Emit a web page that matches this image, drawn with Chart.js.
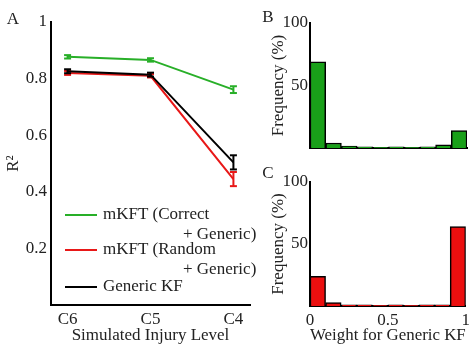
<!DOCTYPE html>
<html>
<head>
<meta charset="utf-8">
<script src="https://cdn.jsdelivr.net/npm/chart.js@4"></script>
<style>
  body { margin: 0; background: #fff; width: 474px; height: 347px; position: relative; overflow: hidden; }
  canvas { position: absolute; }
  #left { left: 0; top: 0; }
  #histB { left: 250px; top: 0; }
  #histC { left: 250px; top: 160px; }
</style>
</head>
<body>
<canvas id="left" width="262" height="347"></canvas>
<canvas id="histB" width="224" height="162"></canvas>
<canvas id="histC" width="224" height="187"></canvas>
<script>
// panel A: R^2 per simulated injury level
const levels = ['C6', 'C5', 'C4'];
const levelPos = [0, 1, 2];
const correctMean = [0.877, 0.866, 0.761];
const correctErr = [0.006, 0.006, 0.012];
const randomMean = [0.82, 0.81, 0.445];
const randomErr = [0.007, 0.006, 0.025];
const genericMean = [0.826, 0.814, 0.504];
const genericErr = [0.007, 0.007, 0.025];

// panels B and C: histogram of weight for generic KF (10 bins over 0..1)
const binCenters = [0.05, 0.15, 0.25, 0.35, 0.45, 0.55, 0.65, 0.75, 0.85, 0.95];
const freqCorrect = [69, 4, 1.5, 1, 0.5, 1, 0.5, 1, 2.5, 14];
const freqRandom = [24, 2.7, 1, 1, 0.5, 1, 0.5, 1, 1, 64];

const GREEN = 'rgb(40,175,40)';
const RED = 'rgb(232,24,24)';
const BLACK = '#000';
const FONT = 'Liberation Serif';

Chart.defaults.font.family = FONT;
Chart.defaults.font.size = 17;
Chart.defaults.color = '#222';

const panelLetter = {
  id: 'panelLetter',
  afterDraw(chart, args, opts) {
    const ctx = chart.ctx;
    ctx.save();
    ctx.font = '17px "' + FONT + '"';
    ctx.fillStyle = '#222';
    ctx.textAlign = 'center';
    ctx.textBaseline = 'middle';
    ctx.fillText(opts.text, opts.x, opts.y);
    ctx.restore();
  }
};

const legendRows = [
  { color: GREEN, lines: ['mKFT (Correct', '+ Generic)'] },
  { color: RED, lines: ['mKFT (Random', '+ Generic)'] },
  { color: BLACK, lines: ['Generic KF'] },
];

const sideLegend = {
  id: 'sideLegend',
  afterDraw(chart) {
    const ctx = chart.ctx;
    const rowY = [215, 250, 287];
    ctx.save();
    ctx.font = '17px "' + FONT + '"';
    ctx.fillStyle = '#222';
    ctx.textBaseline = 'middle';
    legendRows.forEach((row, i) => {
      const y = rowY[i];
      ctx.strokeStyle = row.color;
      ctx.lineWidth = 2;
      ctx.beginPath();
      ctx.moveTo(65, y);
      ctx.lineTo(97, y);
      ctx.stroke();
      ctx.fillText(row.lines[0], 103, y);
      if (row.lines[1]) ctx.fillText(row.lines[1], 183, y + 20);
    });
    ctx.restore();
  }
};

function meanLine(mean, color, order) {
  return {
    type: 'line',
    data: levelPos.map((x, i) => ({ x: x, y: mean[i] })),
    borderColor: color,
    borderWidth: 2,
    pointRadius: 0,
    tension: 0,
    order: order,
  };
}

function errorBars(mean, err, color, order) {
  const pts = [];
  levelPos.forEach((x, i) => {
    pts.push({ x: x, y: mean[i] - err[i] });
    pts.push({ x: x, y: mean[i] + err[i] });
    pts.push({ x: x, y: null });
  });
  return {
    type: 'line',
    data: pts,
    borderColor: color,
    borderWidth: 2,
    pointStyle: 'line',
    pointRadius: 3.5,
    pointBorderColor: color,
    pointBorderWidth: 2,
    spanGaps: false,
    order: order,
  };
}

new Chart(document.getElementById('left'), {
  type: 'line',
  data: {
    datasets: [
      meanLine(genericMean, BLACK, 0),
      errorBars(genericMean, genericErr, BLACK, 0),
      meanLine(randomMean, RED, 1),
      errorBars(randomMean, randomErr, RED, 1),
      meanLine(correctMean, GREEN, 2),
      errorBars(correctMean, correctErr, GREEN, 2),
    ],
  },
  options: {
    responsive: false,
    animation: false,
    layout: { padding: { top: 22, right: 12, left: 0, bottom: 0 } },
    plugins: {
      legend: { display: false },
      tooltip: { enabled: false },
      panelLetter: { text: 'A', x: 13, y: 20 },
    },
    scales: {
      x: {
        type: 'linear',
        min: -0.2,
        max: 2.2,
        afterBuildTicks: (scale) => { scale.ticks = levelPos.map(v => ({ value: v })); },
        afterFit: (scale) => { scale.height = 42; },
        ticks: {
          padding: 4,
          maxRotation: 0,
          callback: (v) => levels[levelPos.indexOf(v)],
        },
        grid: { display: false, drawTicks: false },
        border: { color: BLACK, width: 2 },
        title: { display: true, text: 'Simulated Injury Level', padding: { top: 0, bottom: 1 } },
      },
      y: {
        min: 0,
        max: 1,
        afterFit: (scale) => { scale.width = 51; },
        ticks: {
          stepSize: 0.2,
          padding: 4,
          callback: (v) => (v === 0 ? '' : String(Math.round(v * 10) / 10)),
        },
        grid: { display: false, drawTicks: false },
        border: { color: BLACK, width: 2 },
        title: { display: true, text: 'R²', padding: { top: 3, bottom: 0 } },
      },
    },
  },
  plugins: [panelLetter, sideLegend],
});

function histChart(id, freq, color, letter, showX, chartTop, xHeight) {
  return new Chart(document.getElementById(id), {
    type: 'bar',
    data: {
      labels: binCenters.map(String),
      datasets: [{
        data: freq,
        xAxisID: 'x',
        backgroundColor: color,
        borderColor: BLACK,
        borderWidth: 1.5,
        barPercentage: 1,
        categoryPercentage: 1,
      }],
    },
    options: {
      responsive: false,
      animation: false,
      layout: { padding: { top: chartTop, right: 7, left: 0, bottom: 0 } },
      plugins: {
        legend: { display: false },
        tooltip: { enabled: false },
        panelLetter: { text: letter, x: 18, y: letter === 'B' ? 18 : 14 },
      },
      scales: {
        x: { type: 'category', display: false, offset: true },
        weight: {
          type: 'linear',
          position: 'bottom',
          offset: false,
          min: 0,
          max: 1,
          afterFit: (scale) => { scale.height = xHeight; },
          ticks: {
            display: showX,
            stepSize: 0.5,
            padding: 4,
            maxRotation: 0,
            callback: (v) => String(v),
          },
          grid: { display: false, drawTicks: false, offset: false },
          border: { color: BLACK, width: 2 },
          title: { display: showX, text: 'Weight for Generic KF', padding: { top: 0, bottom: 1 } },
        },
        y: {
          min: 0,
          max: 100,
          afterFit: (scale) => { scale.width = 60; },
          ticks: {
            stepSize: 50,
            padding: 2,
            callback: (v) => (v === 0 ? '' : String(v)),
          },
          grid: { display: false, drawTicks: false },
          border: { color: BLACK, width: 2 },
          title: { display: true, text: 'Frequency (%)', padding: { top: 18, bottom: 0 } },
        },
      },
    },
    plugins: [panelLetter],
  });
}

histChart('histB', freqCorrect, 'rgb(25,160,25)', 'B', false, 23, 14);
histChart('histC', freqRandom, 'rgb(235,15,15)', 'C', true, 22, 41);
</script>
</body>
</html>
